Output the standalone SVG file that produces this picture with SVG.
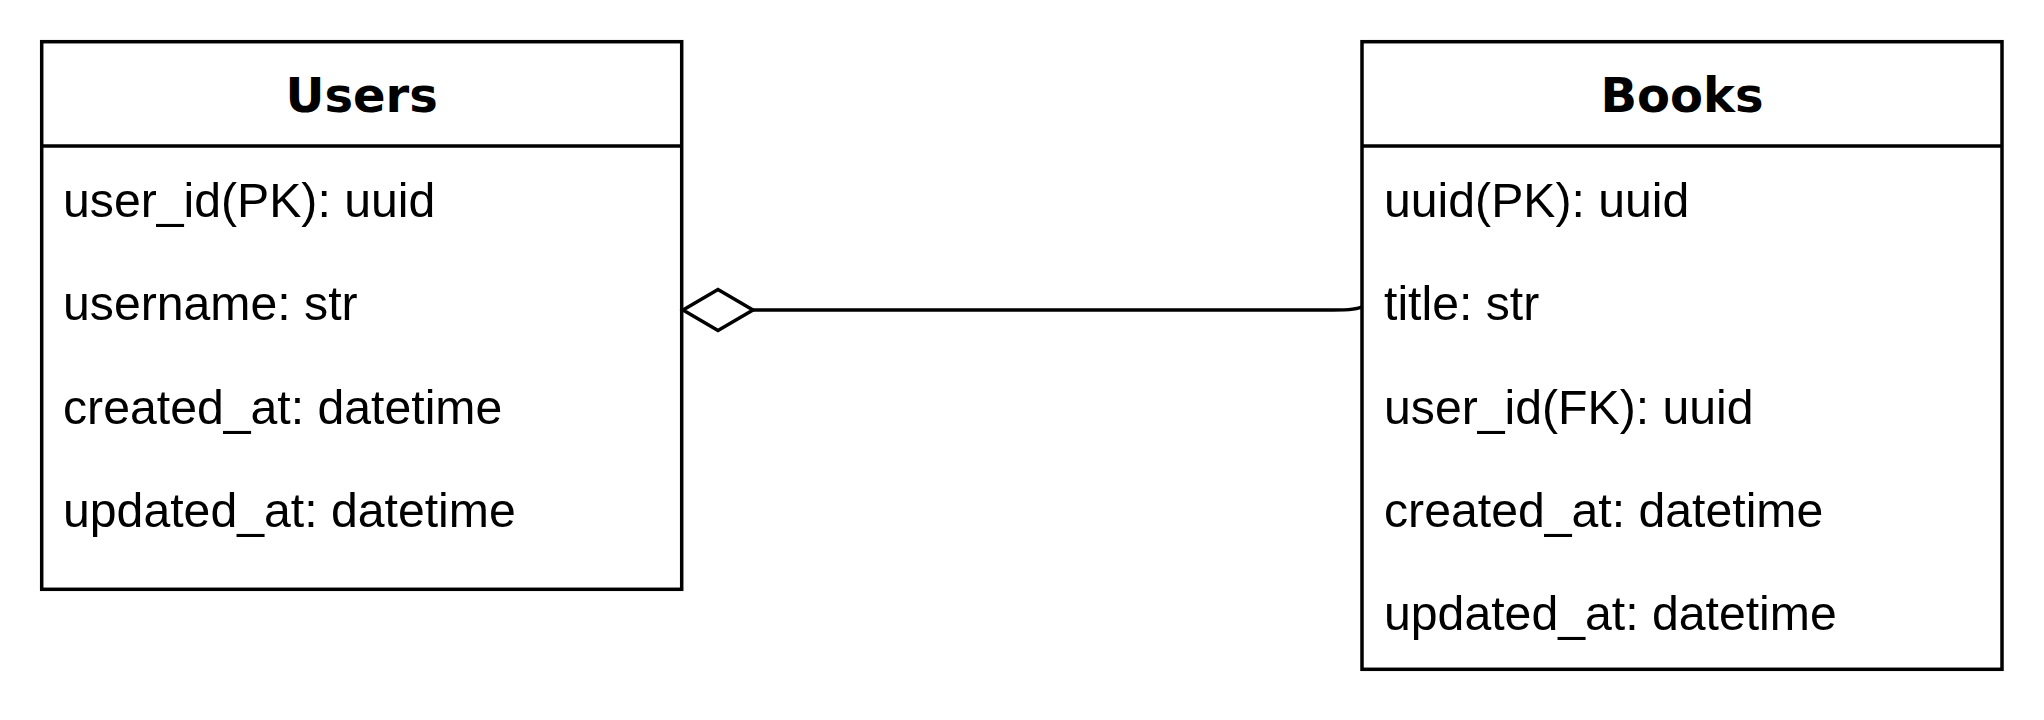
<svg xmlns="http://www.w3.org/2000/svg" width="2044" height="720" viewBox="0 0 2044 720">
<style>
.box{fill:#fff;stroke:#000;stroke-width:3.5}
.sep{stroke:#000;stroke-width:3.5}
.title{font-family:"DejaVu Sans",sans-serif;font-weight:bold;font-size:48px;text-anchor:middle;fill:#000}
.attr{font-family:"Liberation Sans",Arial,sans-serif;font-size:48.2px;fill:#000}
.edge{fill:none;stroke:#000;stroke-width:3.5}
</style>
<rect width="2044" height="720" fill="#fff"/>
<g id="users">
<rect class="box" x="41.7" y="41.7" width="640" height="547.6"/>
<line class="sep" x1="41.7" y1="146" x2="681.7" y2="146"/>
<text class="title" x="361.7" y="111.7">Users</text>
<text class="attr" x="63" y="216.8">user_id(PK): uuid</text>
<text class="attr" x="63" y="320.2">username: str</text>
<text class="attr" x="63" y="423.6">created_at: datetime</text>
<text class="attr" x="63" y="527">updated_at: datetime</text>
</g>
<g id="books">
<rect class="box" x="1362" y="41.7" width="640" height="627.6"/>
<line class="sep" x1="1362" y1="146" x2="2002" y2="146"/>
<text class="title" x="1682" y="111.7">Books</text>
<text class="attr" x="1384" y="216.8">uuid(PK): uuid</text>
<text class="attr" x="1384" y="320.2">title: str</text>
<text class="attr" x="1384" y="423.6">user_id(FK): uuid</text>
<text class="attr" x="1384" y="527">created_at: datetime</text>
<text class="attr" x="1384" y="630.4">updated_at: datetime</text>
</g>
<g id="connectors">
<path class="edge" d="M753 310 L1333 310 Q1358 310 1362 306.5"/>
<polygon class="edge" fill="#fff" points="683,310 718,289.5 753,310 718,330.5"/>
</g>
</svg>
